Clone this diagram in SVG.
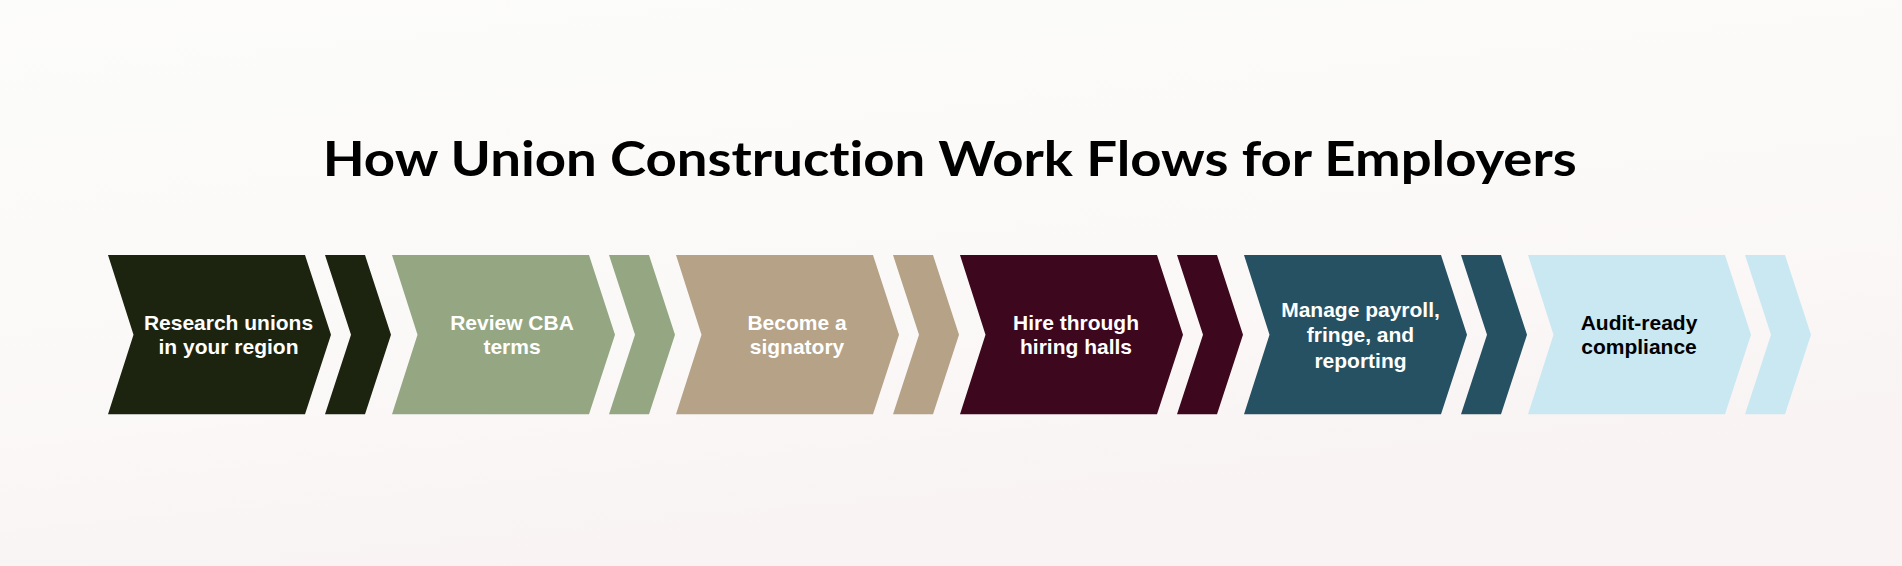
<svg xmlns="http://www.w3.org/2000/svg" width="1902" height="566" viewBox="0 0 1902 566">
  <defs>
    <linearGradient id="bg" x1="0" y1="0" x2="0.35" y2="1">
      <stop offset="0" stop-color="#fcfcfa"/>
      <stop offset="0.6" stop-color="#fbf9f8"/>
      <stop offset="1" stop-color="#f9f3f3"/>
    </linearGradient>
    <polygon id="big" points="0,255 197,255 223,334.7 197,414.3 0,414.3 25.5,334.7"/>
    <polygon id="small" points="217,255 257,255 283,334.7 257,414.3 217,414.3 243,334.7"/>
  </defs>
  <style>
    .title { font-family: "Lato", "Liberation Sans", sans-serif; font-weight: 700; font-size: 48px; fill: #000; font-variant-ligatures: none; font-feature-settings: "liga" 0, "clig" 0; }
    .lbl { font-family: "Liberation Sans", Arial, sans-serif; font-weight: 700; font-size: 21px; fill: #ffffff; text-anchor: middle; }
    .dark { fill: #000000; }
    .c1 { fill: #1c2410; }
    .c2 { fill: #95a782; }
    .c3 { fill: #b5a287; }
    .c4 { fill: #3d071e; }
    .c5 { fill: #265162; }
    .c6 { fill: #cae8f2; }
  </style>
  <rect x="0" y="0" width="1902" height="566" fill="url(#bg)"/>
  <text class="title" x="322.7" y="176" textLength="1254" lengthAdjust="spacingAndGlyphs">How Union Construction Work Flows for Employers</text>

  <g id="connectors">
    <use href="#small" class="c1" x="108"/>
    <use href="#small" class="c2" x="392"/>
    <use href="#small" class="c3" x="676"/>
    <use href="#small" class="c4" x="960"/>
    <use href="#small" class="c5" x="1244"/>
    <use href="#small" class="c6" x="1528"/>
  </g>

  <g id="step1">
    <use href="#big" class="c1" x="108"/>
    <text class="lbl" x="228.5" y="329.5">Research unions</text>
    <text class="lbl" x="228.5" y="354">in your region</text>
  </g>
  <g id="step2">
    <use href="#big" class="c2" x="392"/>
    <text class="lbl" x="512" y="329.5">Review CBA</text>
    <text class="lbl" x="512" y="354">terms</text>
  </g>
  <g id="step3">
    <use href="#big" class="c3" x="676"/>
    <text class="lbl" x="797" y="329.5">Become a</text>
    <text class="lbl" x="797" y="354">signatory</text>
  </g>
  <g id="step4">
    <use href="#big" class="c4" x="960"/>
    <text class="lbl" x="1076" y="329.5">Hire through</text>
    <text class="lbl" x="1076" y="354">hiring halls</text>
  </g>
  <g id="step5">
    <use href="#big" class="c5" x="1244"/>
    <text class="lbl" x="1360.5" y="316.5">Manage payroll,</text>
    <text class="lbl" x="1360.5" y="342">fringe, and</text>
    <text class="lbl" x="1360.5" y="367.5">reporting</text>
  </g>
  <g id="step6">
    <use href="#big" class="c6" x="1528"/>
    <text class="lbl dark" x="1639" y="329.5">Audit-ready</text>
    <text class="lbl dark" x="1639" y="354">compliance</text>
  </g>
</svg>
